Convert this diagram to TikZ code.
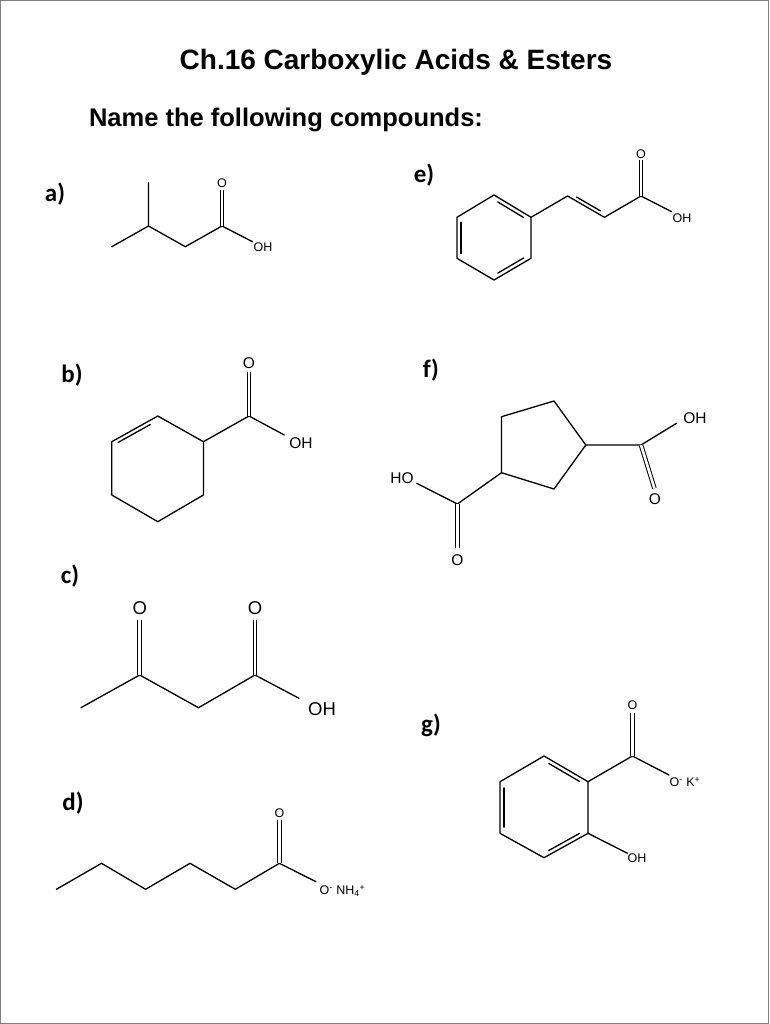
\documentclass[tikz,border=0pt]{standalone}
\usepackage{fontspec}
\usetikzlibrary{calc}
\setmainfont{Liberation Sans}
\newfontfamily\lblfont{Carlito}
\begin{document}
\begin{tikzpicture}[x=1pt,y=-1pt,line width=1.3pt,
  bond/.style={line width=1.3pt,line cap=round,line join=round},
  dbl/.style={double,double distance=2.6pt,line width=1pt},
  atS/.style={inner sep=0pt,font=\fontsize{12.5}{12.5}\selectfont},
  atM/.style={inner sep=0pt,font=\fontsize{15.5}{15.5}\selectfont},
  atL/.style={inner sep=0pt,font=\fontsize{18.5}{18.5}\selectfont},
  lbl/.style={inner sep=0pt,font=\lblfont\bfseries\fontsize{25}{25}\selectfont}]
\useasboundingbox (0,0) rectangle (769,1024);
\draw[gray,line width=1pt] (0.5,0.5) rectangle (768.5,1023.5);
\node[inner sep=0pt,font=\bfseries\fontsize{28}{28}\selectfont] (title) at (396,62) {Ch.16 Carboxylic Acids \& Esters};
\node[inner sep=0pt,font=\bfseries\fontsize{25.5}{25.5}\selectfont] (sub) at (286,120) {Name the following compounds:};
% labels
\node[lbl] (la) at (55,194) {a)};
\node[lbl] (lb) at (72,375) {b)};
\node[lbl] (lc) at (70,576) {c)};
\node[lbl] (ld) at (73,803) {d)};
\node[lbl] (le) at (424,175) {e)};
\node[lbl] (lf) at (431,370) {f)};
\node[lbl] (lg) at (431,725) {g)};
% a)
\coordinate (a1) at (148.5,182.7); \coordinate (a2) at (148.5,226);
\coordinate (a3) at (111.8,246.7); \coordinate (a4) at (185.3,246.7);
\coordinate (a5) at (222,226); \coordinate (a6) at (222,190);
\coordinate (a7) at (252.5,241.7);
\draw[bond] (a1)--(a2)--(a3) (a2)--(a4)--(a5)--(a7);
\draw[dbl] (a5)--(a6);
\node[atS] (aO) at (222,183) {O};
\node[atS] (aOH) at (263,247) {OH};
% e)
\foreach \n/\p in {1/{494,195},2/{531,217.3},3/{531,258.3},4/{494,280},5/{457,258.3},6/{457,217.3}} \coordinate (e\n) at (\p);
\draw[bond] (e1)--(e2)--(e3)--(e4)--(e5)--(e6)--cycle;
\draw[bond] ($(e1)!0.15!(e2)+(-1.8,3.6)$) -- ($(e1)!0.85!(e2)+(-1.8,3.6)$);
\draw[bond] ($(e3)!0.15!(e4)+(-1.8,-3.6)$) -- ($(e3)!0.85!(e4)+(-1.8,-3.6)$);
\draw[bond] ($(e5)!0.12!(e6)+(4,0)$) -- ($(e5)!0.88!(e6)+(4,0)$);
\coordinate (e7) at (567.6,196); \coordinate (e8) at (604.4,217.3);
\coordinate (e9) at (641,196); \coordinate (e10) at (641,160); \coordinate (e11) at (671.6,211.7);
\draw[bond] (e2)--(e7)--(e8)--(e9)--(e11);
\draw[bond] ($(e7)!0.2!(e8)+(1.6,-3.2)$) -- ($(e7)!0.85!(e8)+(1.6,-3.2)$);
\draw[dbl] (e9)--(e10);
\node[atS] (eO) at (641,154) {O};
\node[atS] (eOH) at (682,218.5) {OH};
% b)
\foreach \n/\p in {1/{157.8,416},2/{203.4,441.7},3/{203.4,495},4/{157.8,521.7},5/{111.8,495},6/{111.8,441.7}} \coordinate (b\n) at (\p);
\draw[bond] (b1)--(b2)--(b3)--(b4)--(b5)--(b6)--cycle;
\draw[bond] ($(b6)!0.1!(b1)+(1.6,3.4)$) -- ($(b6)!0.8!(b1)+(1.6,3.4)$);
\coordinate (b7) at (249,416); \coordinate (b8) at (249,371.7); \coordinate (b9) at (284.3,435);
\draw[bond] (b2)--(b7)--(b9);
\draw[dbl] (b7)--(b8);
\node[atM] (bO) at (249,363) {O};
\node[atM] (bOH) at (301,443.5) {OH};
% f)
\foreach \n/\p in {1/{501.5,416.7},2/{554,401},3/{585.8,445},4/{554,489},5/{501.5,472.7}} \coordinate (f\n) at (\p);
\draw[bond] (f1)--(f2)--(f3)--(f4)--(f5)--cycle;
\coordinate (f6) at (641,445); \coordinate (f7) at (676.5,423.3); \coordinate (f8) at (654.4,488.3);
\coordinate (f9) at (457.4,504); \coordinate (f10) at (416.7,483.3); \coordinate (f11) at (457.4,548.3);
\draw[bond] (f3)--(f6)--(f7) (f5)--(f9)--(f10);
\draw[dbl] (f6)--(f8);
\draw[dbl] (f9)--(f11);
\node[atM] (fOH) at (695,418) {OH};
\node[atM] (fO1) at (655,499) {O};
\node[atM] (fHO) at (402,478.5) {HO};
\node[atM] (fO2) at (457.4,560) {O};
% c)
\coordinate (c1) at (80.9,707.7); \coordinate (c2) at (139.7,675); \coordinate (c3) at (139.7,620);
\coordinate (c4) at (198.5,707.7); \coordinate (c5) at (255,675); \coordinate (c6) at (255,620);
\coordinate (c7) at (299,698.3);
\draw[bond] (c1)--(c2)--(c4)--(c5)--(c7);
\draw[dbl] (c2)--(c3);
\draw[dbl] (c5)--(c6);
\node[atL] (cO1) at (139.7,608) {O};
\node[atL] (cO2) at (255,608) {O};
\node[atL] (cOH) at (322,709) {OH};
% d)
\foreach \n/\p in {1/{56.4,889.3},2/{101.5,863.3},3/{145.6,889.3},4/{190,863.3},5/{235.3,889.3},6/{279.4,863.3},7/{279.4,820},8/{316,881.7}} \coordinate (d\n) at (\p);
\draw[bond] (d1)--(d2)--(d3)--(d4)--(d5)--(d6)--(d8);
\draw[dbl] (d6)--(d7);
\node[atS] (dO) at (279.4,813) {O};
\node[atS,anchor=west] (dOm) at (319,891) {O\textsuperscript{-} NH\textsubscript{4}\textsuperscript{+}};
% g)
\foreach \n/\p in {1/{544,756},2/{588,781.7},3/{588,833.3},4/{544,857.7},5/{500,833.3},6/{500,781.7}} \coordinate (g\n) at (\p);
\draw[bond] (g1)--(g2)--(g3)--(g4)--(g5)--(g6)--cycle;
\draw[bond] ($(g1)!0.15!(g2)+(-1.8,3.6)$) -- ($(g1)!0.85!(g2)+(-1.8,3.6)$);
\draw[bond] ($(g3)!0.15!(g4)+(-1.8,-3.6)$) -- ($(g3)!0.85!(g4)+(-1.8,-3.6)$);
\draw[bond] ($(g5)!0.12!(g6)+(4,0)$) -- ($(g5)!0.88!(g6)+(4,0)$);
\coordinate (g7) at (632.4,756); \coordinate (g8) at (632.4,713.3); \coordinate (g9) at (669,775);
\coordinate (g10) at (627.5,853.3);
\draw[bond] (g2)--(g7)--(g9) (g3)--(g10);
\draw[dbl] (g7)--(g8);
\node[atS] (gO) at (632.4,705.5) {O};
\node[atS,anchor=west] (gOm) at (669,782) {O\textsuperscript{-} K\textsuperscript{+}};
\node[atS] (gOH) at (637,858.5) {OH};
\end{tikzpicture}
\end{document}
